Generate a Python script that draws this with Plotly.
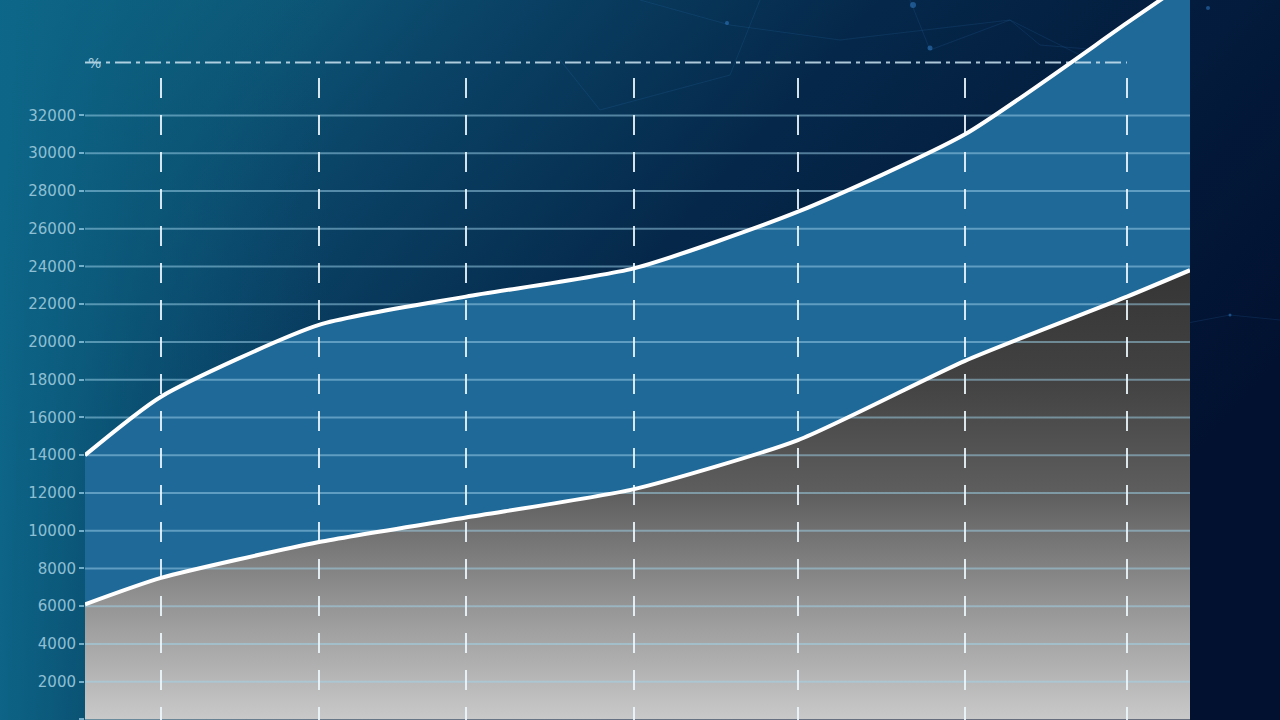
import base64
import plotly.graph_objects as go

# ---- data ----
x_pos = [0, 0.76, 2.34, 3.81, 5.49, 7.13, 8.80, 10.42, 11.05]
upper = [14000, 17100, 20900, 22400, 23900, 26900, 31000, 36900, 39200]
lower = [6100, 7500, 9400, 10700, 12200, 14800, 19000, 22400, 23800]
grid_x = x_pos[1:-1]
y_ticks = list(range(0, 32001, 2000))
y_tick_text = [str(v) for v in y_ticks]
pct_level = 34800
pct_label = "%"

Y_MIN, Y_MAX = -30, 38116
X_MIN, X_MAX = x_pos[0], x_pos[-1]

# ---- background gradient as an SVG image ----
svg = """<svg xmlns="http://www.w3.org/2000/svg" width="1280" height="720" viewBox="0 0 1280 720" preserveAspectRatio="none">
<defs>
<linearGradient id="g" x1="0" y1="0" x2="1" y2="0.5">
<stop offset="0" stop-color="#11748f"/>
<stop offset="0.3" stop-color="#0a4467"/>
<stop offset="0.55" stop-color="#05284a"/>
<stop offset="0.8" stop-color="#031a3b"/>
<stop offset="1" stop-color="#021130"/>
</linearGradient>
<linearGradient id="l" x1="0" y1="0" x2="1" y2="0">
<stop offset="0" stop-color="#0d6688" stop-opacity="0.95"/>
<stop offset="0.4" stop-color="#0b5a7c" stop-opacity="0.6"/>
<stop offset="1" stop-color="#0a4f72" stop-opacity="0"/>
</linearGradient>
</defs>
<rect width="1280" height="720" fill="url(#g)"/>
<rect width="330" height="720" fill="url(#l)"/>
<g stroke="#2f7fc0" stroke-opacity="0.16" stroke-width="1" fill="none">
<polyline points="640,0 730,25 840,40 1010,20 1090,60 1180,10"/>
<polyline points="560,60 600,110 730,75 760,0"/>
<polyline points="910,0 930,50 1010,20 1040,45 1100,50"/>
<polyline points="1150,330 1230,315 1280,320"/>
</g>
<g fill="#3c8ee0" fill-opacity="0.45">
<circle cx="913" cy="5" r="3"/><circle cx="930" cy="48" r="2.5"/><circle cx="727" cy="23" r="2"/><circle cx="1230" cy="315" r="1.5"/><circle cx="1208" cy="8" r="2"/>
</g>
</svg>"""
bg_src = "data:image/svg+xml;base64," + base64.b64encode(svg.encode()).decode()

fig = go.Figure()

# lower (gray) area
fig.add_trace(go.Scatter(
    x=x_pos, y=lower, mode="lines", line=dict(width=0, shape="spline", smoothing=0.6),
    fill="tozeroy",
    fillgradient=dict(type="vertical", start=0, stop=24000,
                      colorscale=[[0, "#c9c9c9"], [0.25, "#959595"], [0.5, "#5e5e5e"],
                                  [0.75, "#424242"], [1, "#353535"]]),
    hoverinfo="skip", showlegend=False))

# band between lines (blue)
fig.add_trace(go.Scatter(
    x=x_pos, y=upper, mode="lines", line=dict(width=0, shape="spline", smoothing=0.6),
    fill="tonexty", fillcolor="#1f6999", hoverinfo="skip", showlegend=False))

# horizontal grid lines (drawn above the fills)
gx, gy = [], []
for t in y_ticks[1:]:
    gx += [X_MIN, X_MAX, None]
    gy += [t, t, None]
fig.add_trace(go.Scatter(x=gx, y=gy, mode="lines",
                         line=dict(color="rgba(160,212,236,0.5)", width=2),
                         hoverinfo="skip", showlegend=False))

# top dash-dot reference line
fig.add_trace(go.Scatter(x=[X_MIN, grid_x[-1]], y=[pct_level, pct_level], mode="lines",
                         line=dict(color="rgba(205,228,242,0.85)", width=2,
                                   dash="16px,5px,4px,5px"),
                         hoverinfo="skip", showlegend=False))

# vertical dashed grid lines
vx, vy = [], []
for g in grid_x:
    vx += [g, g, None]
    vy += [-400, pct_level, None]
fig.add_trace(go.Scatter(x=vx, y=vy, mode="lines",
                         line=dict(color="rgba(236,246,252,0.9)", width=2, dash="20px,17px"),
                         hoverinfo="skip", showlegend=False))

# white series lines
for series in (lower, upper):
    fig.add_trace(go.Scatter(x=x_pos, y=series, mode="lines",
                             line=dict(color="#ffffff", width=4, shape="spline", smoothing=0.6),
                             hoverinfo="skip", showlegend=False))

fig.add_annotation(x=X_MIN, y=pct_level, xref="x", yref="y", text=pct_label,
                   showarrow=False, xanchor="left", yanchor="middle", xshift=1,
                   font=dict(color="#a9cfe0", size=14, family="DejaVu Sans"))

fig.update_layout(
    width=1280, height=720,
    margin=dict(l=85, r=90, t=0, b=0),
    paper_bgcolor="#062a4b", plot_bgcolor="rgba(0,0,0,0)",
    hovermode=False, showlegend=False,
    images=[dict(source=bg_src, xref="paper", yref="paper",
                 x=-85 / 1105, y=1, sizex=1280 / 1105, sizey=1,
                 xanchor="left", yanchor="top", sizing="stretch", layer="below")],
    xaxis=dict(range=[X_MIN, X_MAX], showgrid=False, zeroline=False,
               showticklabels=False, ticks="", showline=False),
    yaxis=dict(range=[Y_MIN, Y_MAX], tickvals=y_ticks, ticktext=y_tick_text,
               showgrid=False, zeroline=False, showline=False,
               ticks="outside", ticklen=5, tickwidth=2,
               tickcolor="rgba(160,212,236,0.7)",
               tickfont=dict(color="#8fbfd3", size=15, family="DejaVu Sans")),
)

fig.write_html(
    "out.html",
    config={"displayModeBar": False},
    post_script="document.body.style.margin='0';document.body.style.overflow='hidden';",
)
